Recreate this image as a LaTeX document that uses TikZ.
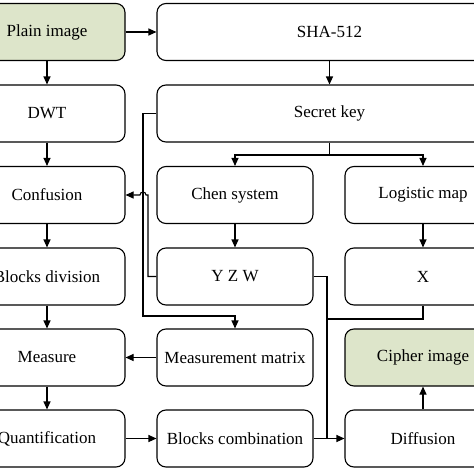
\documentclass[tikz,border=0pt]{standalone}
\usepackage{fontspec}
\setmainfont{Liberation Serif}
\usetikzlibrary{arrows.meta}
\definecolor{imgfill}{RGB}{221,229,202}
\begin{document}
\begin{tikzpicture}[x=1pt,y=-1pt,
  box/.style={draw,line width=1.1pt,rounded corners=9pt,minimum height=57pt,inner sep=0pt,font=\fontsize{17}{20}\selectfont},
  colbox/.style={box,minimum width=156pt},
  widebox/.style={box,minimum width=345pt},
  img/.style={fill=imgfill},
  conn/.style={line width=1.1pt},
  arr/.style={conn,-{Triangle[length=8pt,width=7pt]}}]
\useasboundingbox (0,0) rectangle (474,474);
\begin{scope}
\clip (0,0) rectangle (474,474);
\node[colbox,img] (plain) at (47,32) {Plain image};
\node[widebox] (sha) at (329.5,32) {SHA-512};
\node[colbox] (dwt) at (47,113.5) {DWT};
\node[widebox] (key) at (329.5,113.5) {Secret key};
\node[colbox] (conf) at (47,195) {Confusion};
\node[colbox] (chen) at (235,195) {Chen system};
\node[colbox] (logi) at (423,195) {Logistic map};
\node[colbox] (blk) at (47,276.5) {Blocks division};
\node[colbox] (yzw) at (235,276.5) {Y Z W};
\node[colbox] (x) at (423,276.5) {X};
\node[colbox] (meas) at (47,357.5) {Measure};
\node[colbox] (mm) at (235,357.5) {Measurement matrix};
\node[colbox,img] (ciph) at (423,357.5) {Cipher image};
\node[colbox] (quant) at (47,438.5) {Quantification};
\node[colbox] (bc) at (235,438.5) {Blocks combination};
\node[colbox] (diff) at (423,438.5) {Diffusion};

\coordinate (split) at (329.5,155);
\coordinate (kl) at (143,316);
\coordinate (j1) at (148,195);
\coordinate (j2) at (146,195);
\coordinate (m1) at (327,438.5);
\coordinate (xj) at (327,319);

\draw[arr] (plain) -- (sha);
\draw[arr] (plain) -- (dwt);
\draw[arr] (dwt) -- (conf);
\draw[arr] (conf) -- (blk);
\draw[arr] (blk) -- (meas);
\draw[arr] (meas) -- (quant);
\draw[arr] (sha) -- (key);
\draw[conn] (key.south) -- (split);
\draw[arr] (split) -| (chen.north);
\draw[arr] (split) -| (logi.north);
\draw[arr] (chen) -- (yzw);
\draw[arr] (logi) -- (x);
\draw[arr] (key.west) -| (kl) -| (mm.north);
\draw[arr] (yzw.west) -| (j1) -- (j2) arc[start angle=0,end angle=180,radius=3pt] -- (conf.east);
\draw[arr] (mm) -- (meas);
\draw[arr] (quant) -- (bc);
\draw[arr] (bc) -- (diff);
\draw[conn] (yzw.east) -| (m1);
\draw[conn] (x.south) |- (xj);
\draw[arr] (diff) -- (ciph);
\end{scope}
\end{tikzpicture}
\end{document}
